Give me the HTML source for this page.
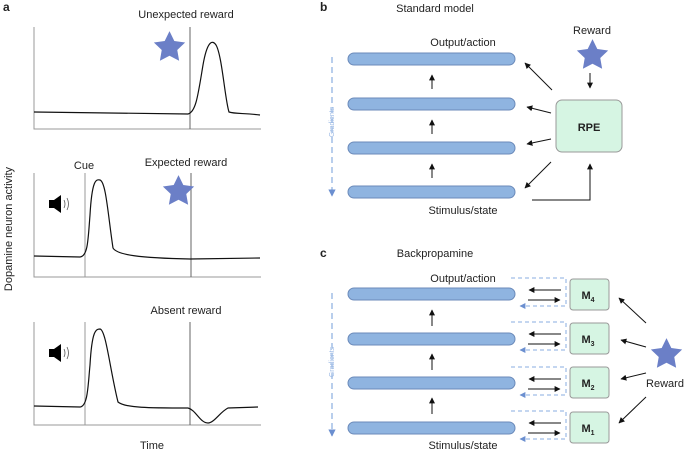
<!DOCTYPE html>
<html><head><meta charset="utf-8"><style>
html,body{margin:0;padding:0;background:#fff}
svg{display:block}
text{font-family:"Liberation Sans",sans-serif;fill:#222}
</style></head><body>
<svg width="685" height="449" viewBox="0 0 685 449" xmlns="http://www.w3.org/2000/svg">
<defs>
<marker id="ah" viewBox="0 0 10 10" refX="9" refY="5" markerWidth="6" markerHeight="6" orient="auto"><path d="M0,0 L10,5 L0,10 z" fill="#111"/></marker>
<marker id="bh" viewBox="0 0 10 10" refX="9" refY="5" markerWidth="6" markerHeight="6" orient="auto"><path d="M0,0 L10,5 L0,10 z" fill="#6b8fd0"/></marker>
<symbol id="star" viewBox="-16 -16 32 32"><polygon points="0,-15 4.4,-6 14.3,-4.6 7.1,2.3 8.8,12.1 0,7.5 -8.8,12.1 -7.1,2.3 -14.3,-4.6 -4.4,-6" fill="#6b7fc7"/></symbol>
<symbol id="spk" viewBox="0 0 22 18"><rect x="0" y="5" width="5" height="8" fill="#000"/><polygon points="5,5 12,0 12,18 5,13" fill="#000"/><path d="M15,5 Q17,9 15,13 M18,3 Q21,9 18,15" stroke="#555" fill="none" stroke-width="0.8"/></symbol>
</defs>
<g font-size="11">
<text x="3" y="11" font-weight="bold" font-size="12">a</text>
<text x="186" y="18" text-anchor="middle">Unexpected  reward</text>
<path d="M34,27 V129 H261" stroke="#999" fill="none"/>
<line x1="190" y1="27" x2="190" y2="129" stroke="#666"/>
<use href="#star" x="152" y="30" width="35" height="35"/>
<path d="M34,112 L188,114 C196,112 198,95 203,65 C207,42 212,39 216,45 C222,55 225,100 229,112 C235,114 245,113 260,115" stroke="#111" fill="none" stroke-width="1.2"/>
<text x="84" y="169" text-anchor="middle">Cue</text>
<text x="186" y="166" text-anchor="middle">Expected  reward</text>
<path d="M34,173 V277 H261" stroke="#999" fill="none"/>
<line x1="85" y1="173" x2="85" y2="277" stroke="#999"/>
<line x1="191" y1="173" x2="191" y2="277" stroke="#666"/>
<use href="#star" x="161" y="174" width="35" height="35"/>
<use href="#spk" x="49" y="195" width="22" height="18"/>
<path d="M34,256 L80,257 C88,256 88,240 90,215 C92,180 96,179 100,180 C106,182 108,215 113,248 C117,255 140,258 190,259 L260,258" stroke="#111" fill="none" stroke-width="1.2"/>
<text x="186" y="314" text-anchor="middle">Absent  reward</text>
<path d="M34,322 V425 H261" stroke="#999" fill="none"/>
<line x1="85" y1="322" x2="85" y2="425" stroke="#999"/>
<line x1="190" y1="322" x2="190" y2="425" stroke="#666"/>
<use href="#spk" x="49" y="344" width="22" height="18"/>
<path d="M34,406 L80,407 C88,406 88,385 90,365 C92,330 96,329 100,329 C106,330 110,370 118,402 C125,408 150,408 188,408 C196,410 200,423 208,423 C214,423 220,412 228,408 L258,407" stroke="#111" fill="none" stroke-width="1.2"/>
<text x="152" y="449" text-anchor="middle">Time</text>
<text transform="translate(12,229) rotate(-90)" text-anchor="middle">Dopamine neuron activity</text>
</g>

<g font-size="11">
<text x="320" y="11" font-weight="bold" font-size="12">b</text>
<text x="435" y="12" text-anchor="middle">Standard model</text>
<text x="463" y="46" text-anchor="middle">Output/action</text>
<text x="463" y="214" text-anchor="middle">Stimulus/state</text>
<text x="592" y="34" text-anchor="middle">Reward</text>
<g fill="#8fb4e0" stroke="#6b8aba">
<rect x="348" y="53" width="167" height="12" rx="6"/>
<rect x="348" y="98" width="167" height="12" rx="6"/>
<rect x="348" y="142" width="167" height="12" rx="6"/>
<rect x="348" y="186" width="167" height="12" rx="6"/>
</g>
<g stroke="#111" marker-end="url(#ah)">
<line x1="432" y1="89" x2="432" y2="75"/>
<line x1="432" y1="134" x2="432" y2="120"/>
<line x1="432" y1="178" x2="432" y2="164"/>
<line x1="552" y1="90" x2="525" y2="63"/>
<line x1="551" y1="113" x2="527" y2="107"/>
<line x1="551" y1="139" x2="527" y2="144"/>
<line x1="551" y1="162" x2="525" y2="188"/>
<line x1="590" y1="73" x2="590" y2="88"/>
<path d="M532,200 H590 V164" fill="none"/>
</g>
<use href="#star" x="575" y="38" width="35" height="35"/>
<rect x="556" y="100" width="66" height="52" rx="6" fill="#d6f5e3" stroke="#999"/>
<text x="589" y="131" text-anchor="middle" font-weight="bold">RPE</text>
<line x1="332" y1="57" x2="332" y2="196" stroke="#8aaee0" stroke-width="1.2" stroke-dasharray="6,4" marker-end="url(#bh)"/>
<text transform="translate(334,122) rotate(-90)" text-anchor="middle" font-size="7" style="fill:#9ab8e4">Gradients</text>

<text x="320" y="257" font-weight="bold" font-size="12">c</text>
<text x="435" y="257" text-anchor="middle">Backpropamine</text>
<text x="463" y="282" text-anchor="middle">Output/action</text>
<text x="463" y="449" text-anchor="middle">Stimulus/state</text>
<text x="665" y="387" text-anchor="middle">Reward</text>
<g fill="#8fb4e0" stroke="#6b8aba">
<rect x="348" y="288" width="167" height="12" rx="6"/>
<rect x="348" y="333" width="167" height="12" rx="6"/>
<rect x="348" y="377" width="167" height="12" rx="6"/>
<rect x="348" y="422" width="167" height="12" rx="6"/>
</g>
<g stroke="#111" marker-end="url(#ah)">
<line x1="432" y1="326" x2="432" y2="310"/>
<line x1="432" y1="370" x2="432" y2="354"/>
<line x1="432" y1="414" x2="432" y2="398"/>
</g>
<g id="mrow">
<path d="M511,278 H566 V306 H520" fill="none" stroke="#8aaee0" stroke-dasharray="4,3" marker-end="url(#bh)"/>
<line x1="561" y1="290" x2="529" y2="290" stroke="#111" marker-end="url(#ah)"/>
<line x1="528" y1="300" x2="560" y2="300" stroke="#111" marker-end="url(#ah)"/>
</g>
<use href="#mrow" y="44"/>
<use href="#mrow" y="89"/>
<use href="#mrow" y="133"/>
<g fill="#d6f5e3" stroke="#999">
<rect x="570" y="279" width="39" height="31" rx="3"/>
<rect x="570" y="323" width="39" height="31" rx="3"/>
<rect x="570" y="367" width="39" height="31" rx="3"/>
<rect x="570" y="412" width="39" height="31" rx="3"/>
</g>
<g font-weight="bold" text-anchor="middle" font-size="11">
<text x="588" y="299">M<tspan font-size="7" dy="3">4</tspan></text>
<text x="588" y="343">M<tspan font-size="7" dy="3">3</tspan></text>
<text x="588" y="387">M<tspan font-size="7" dy="3">2</tspan></text>
<text x="588" y="432">M<tspan font-size="7" dy="3">1</tspan></text>
</g>
<g stroke="#111" marker-end="url(#ah)">
<line x1="646" y1="323" x2="619" y2="298"/>
<line x1="646" y1="347" x2="621" y2="340"/>
<line x1="646" y1="373" x2="621" y2="379"/>
<line x1="646" y1="397" x2="619" y2="423"/>
</g>
<use href="#star" x="649" y="337" width="35" height="35"/>
<line x1="332" y1="293" x2="332" y2="436" stroke="#8aaee0" stroke-width="1.2" stroke-dasharray="6,4" marker-end="url(#bh)"/>
<text transform="translate(334,362) rotate(-90)" text-anchor="middle" font-size="7" style="fill:#9ab8e4">Gradients</text>
</g>
</svg>
</body></html>
